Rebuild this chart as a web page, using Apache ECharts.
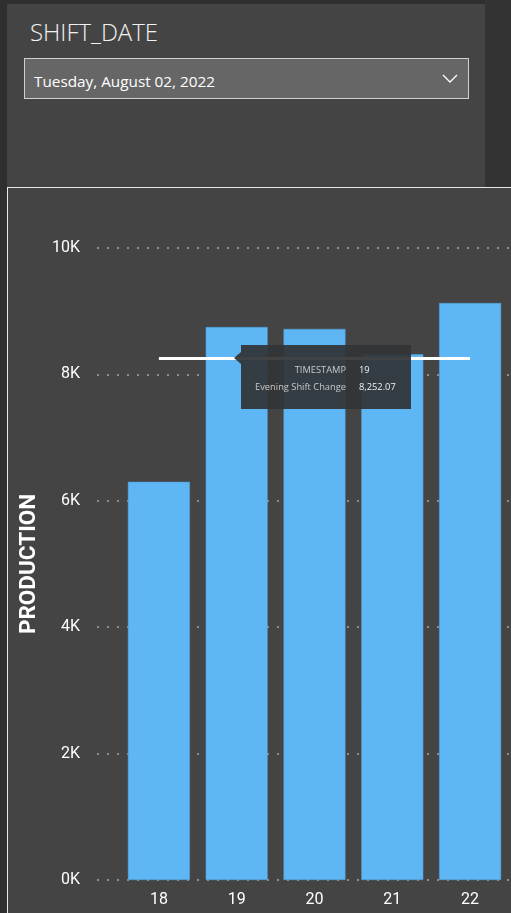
<!DOCTYPE html>
<html>
<head>
<meta charset="utf-8">
<script src="https://cdn.jsdelivr.net/npm/echarts@6/dist/echarts.min.js"></script>
<style>
  html, body { margin:0; padding:0; width:511px; height:913px; overflow:hidden; background:#2f2f2f; }
  #rightstrip { position:absolute; left:485px; top:0; width:26px; height:188px; background:#333333; }
  #slicer { position:absolute; left:7px; top:4px; width:478px; height:184px; background:#444444; }
  #slicerTitle { position:absolute; left:23px; top:11px; font-family:"Open Sans", sans-serif; font-weight:300; font-size:24px; color:#f2f2f2; }
  #dropdown { position:absolute; left:17px; top:54px; width:443px; height:39px; background:#666666; border:1px solid #d0d0d0; }
  #ddText { position:absolute; left:9px; top:12px; font-family:"Open Sans", sans-serif; font-size:15.3px; color:#ffffff; }
  #chev { position:absolute; left:416px; top:14px; }
  #panel { position:absolute; left:7px; top:187px; width:504px; height:726px; background:#444444; border-top:1px solid #e8e8e8; border-left:1px solid #e8e8e8; box-sizing:border-box; }
  #chart { position:absolute; left:0; top:0; width:511px; height:913px; }
</style>
</head>
<body>
<div id="rightstrip"></div>
<div id="slicer">
  <div id="slicerTitle">SHIFT_DATE</div>
  <div id="dropdown">
    <div id="ddText">Tuesday, August 02, 2022</div>
    <svg id="chev" width="20" height="12"><polyline points="2,2 9,9 16,2" fill="none" stroke="#ffffff" stroke-width="1.3"/></svg>
  </div>
</div>
<div id="panel"></div>
<div id="chart"></div>
<script>
const categories = ['18', '19', '20', '21', '22'];
const production = [6300, 8750, 8720, 8320, 9130];
const eveningShiftChange = [8252.07, 8252.07, 8252.07, 8252.07, 8252.07];
const yTicks = [0, 2000, 4000, 6000, 8000, 10000];
const tooltipRows = [['TIMESTAMP', '19'], ['Evening Shift Change', '8,252.07']];

const chart = echarts.init(document.getElementById('chart'), null, { renderer: 'canvas' });

const gridTop = 248, gridBottom = 913 - 880;
const tipX = 241, tipY = 345, tipW = 170, tipH = 64;

const tipTexts = [];
tooltipRows.forEach((r, i) => {
  tipTexts.push({ type: 'text', z: 101, style: { x: tipX + 105, y: tipY + 25 + i * 17, text: r[0], fill: '#c8c8c8', font: '9.3px "Open Sans", sans-serif', textAlign: 'right', textVerticalAlign: 'middle' } });
  tipTexts.push({ type: 'text', z: 101, style: { x: tipX + 118, y: tipY + 25 + i * 17, text: r[1], fill: '#f0f0f0', font: '9.3px "Open Sans", sans-serif', textAlign: 'left', textVerticalAlign: 'middle' } });
});

chart.setOption({
  backgroundColor: 'transparent',
  animation: false,
  grid: [
    { left: 97, right: 0, top: gridTop, bottom: gridBottom },
    { left: 120, right: 2, top: gridTop, bottom: gridBottom }
  ],
  xAxis: [
    { gridIndex: 0, type: 'category', data: categories, show: false },
    { gridIndex: 1, type: 'category', data: categories,
      axisLine: { show: false }, axisTick: { show: false },
      axisLabel: { color: '#ffffff', fontSize: 16, fontFamily: 'Roboto', margin: 12 } }
  ],
  yAxis: [
    { gridIndex: 0, type: 'value', min: yTicks[0], max: yTicks[yTicks.length - 1], interval: 2000,
      name: 'PRODUCTION', nameLocation: 'middle', nameGap: 55,
      nameTextStyle: { color: '#ffffff', fontSize: 22.5, fontWeight: 'bold', fontFamily: 'Roboto' },
      axisLine: { show: false }, axisTick: { show: false },
      axisLabel: { color: '#ffffff', fontSize: 16, fontFamily: 'Roboto', margin: 17, formatter: v => (v / 1000) + 'K' },
      splitLine: { show: true, lineStyle: { color: '#8c8c8c', width: 2, type: [2, 8] } } },
    { gridIndex: 1, type: 'value', min: yTicks[0], max: yTicks[yTicks.length - 1], interval: 2000, show: false, splitLine: { show: false } }
  ],
  series: [
    { type: 'bar', xAxisIndex: 1, yAxisIndex: 1, data: production, barWidth: 62,
      itemStyle: { color: '#5eb6f5', borderColor: '#4f9fd8', borderWidth: 0.5 }, z: 3 },
    { type: 'line', xAxisIndex: 1, yAxisIndex: 1, data: eveningShiftChange, symbol: 'none',
      lineStyle: { color: '#ffffff', width: 3 }, z: 4 }
  ],
  graphic: [
    { type: 'group', z: 100, children: [
      { type: 'rect', z: 100, shape: { x: tipX, y: tipY, width: tipW, height: tipH }, style: { fill: 'rgba(50,52,54,0.93)' } },
      { type: 'polygon', z: 100, shape: { points: [[tipX, tipY + 7], [tipX - 7, tipY + 13], [tipX, tipY + 19]] }, style: { fill: 'rgba(50,52,54,0.93)' } }
    ].concat(tipTexts) }
  ]
});
</script>
</body>
</html>
